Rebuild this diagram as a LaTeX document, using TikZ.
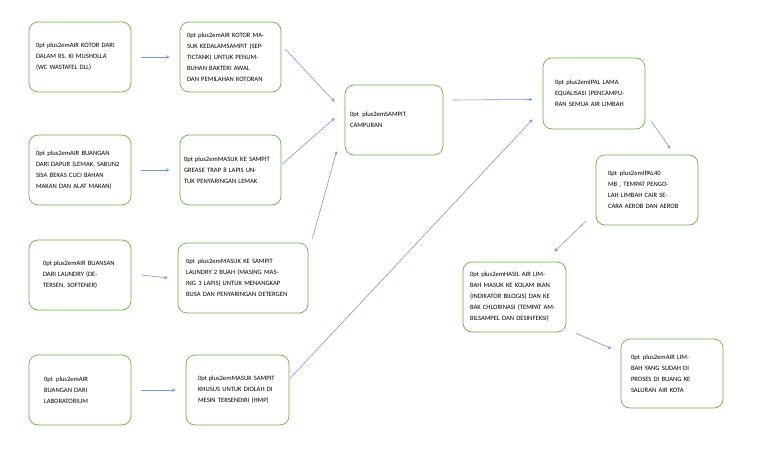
\documentclass[tikz,border=0pt]{standalone}
\usepackage{fontspec}
\setmainfont{Carlito}
\definecolor{bg}{RGB}{112,173,71}
\definecolor{ab}{RGB}{120,150,220}
\begin{document}
\begin{tikzpicture}[x=1pt,y=-1pt,
 box/.style={draw=bg, line width=0.7pt, rounded corners=9pt, align=center, font=\fontsize{6.6}{11}\selectfont\lefthyphenmin=64\relax\hyphenpenalty=10000\relax, inner sep=2pt},
 arr/.style={draw=ab, line width=0.6pt, ->, >=stealth}]
\useasboundingbox[fill=white] (0,0) rectangle (768,466);
\newcommand{\bx}[7]{\node[box, minimum width=#4-#2, minimum height=#5-#3, text width=#4-#2-#7] (#1) at ({(#2+#4)/2},{(#3+#5)/2}) {#6};}
\bx{a1}{29}{22}{131}{92}{AIR KOTOR DARI DALAM RS, KI MUSHOLLA (WC WASTAFEL DLL)}{14}
\bx{b1}{180}{22}{281}{92}{AIR KOTOR MASUK KEDALAMSAMPIT (SEPTICTANK) UNTUK PENUMBUHAN BAKTERI AWAL DAN PEMILAHAN KOTORAN}{14}
\bx{a2}{29}{135}{131}{205}{AIR BUANGAN DARI DAPUR (LEMAK, SABUN2 SISA BEKAS CUCI BAHAN MAKAN DAN ALAT MAKAN)}{14}
\bx{b2}{180}{135}{281}{205}{MASUK KE SAMPIT GREASE TRAP 8 LAPIS UNTUK PENYARINGAN LEMAK}{8}
\bx{a3}{29}{240}{131}{310}{AIR BUANSAN DARI LAUNDRY (DETERSEN, SOFTENER)}{28}
\bx{b3}{178}{243}{308}{313}{MASUK KE SAMPIT LAUNDRY 2 BUAH (MASING MASING 3 LAPIS) UNTUK MENANGKAP BUSA DAN PENYARINGAN DETERGEN}{16}
\bx{a4}{29}{355}{131}{425}{AIR BUANGAN DARI LABORATORIUM}{30}
\bx{b4}{186}{355}{289}{425}{MASUK SAMPIT KHUSUS UNTUK DIOLAH DI MESIN TERSENDIRI (HMP)}{24}
\bx{s}{345}{85}{443}{155}{SAMPIT CAMPURAN}{10}
\bx{e}{543}{58}{645}{129}{IPAL LAMA EQUALISASI (PENCAMPURAN SEMUA AIR LIMBAH}{24}
\bx{f}{596}{155}{698}{225}{IPAL40 MB , TEMPAT PENGOLAH LIMBAH CAIR SECARA AEROB DAN AEROB}{24}
\bx{g}{463}{262}{566}{332}{HASIL AIR LIMBAH MASUK KE KOLAM IKAN (INDIKATOR BILOGIS) DAN KE BAK CHLORINASI (TEMPAT AMBILSAMPEL DAN DESINFEKSI)}{14}
\bx{h}{621}{339}{723}{408}{AIR LIMBAH YANG SUDAH DI PROSES DI BUANG KE SALURAN AIR KOTA}{20}
\draw[arr] ([xshift=10]a1.east) -- ([xshift=-10]b1.west);
\draw[arr] ([xshift=10]a2.east) -- ([xshift=-10]b2.west);
\draw[arr] ([xshift=10]a3.east) -- ([xshift=-10]b3.west);
\draw[arr] ([xshift=10]a4.east) -- ([xshift=-10]b4.west);
\draw[arr] ([shift={(4,-8)}]b1.east) -- ([shift={(-10,-18)}]s.west);
\draw[arr] ([shift={(1,-6)}]b2.east) -- ([shift={(-10,-2)}]s.west);
\draw[arr] ([shift={(4,-4)}]b3.north east) -- ([shift={(-8,-4)}]s.south west);
\draw[arr] ([shift={(1,-12)}]b4.east) -- ([shift={(-10,-10)}]e.south west);
\draw[arr] ([shift={(9,-20)}]s.east) -- ([shift={(-10,6)}]e.west);
\draw[arr] ([shift={(6,-8)}]e.south east) -- ([shift={(-28,-6)}]f.north east);
\draw[arr] ([shift={(-10,-4)}]f.south west) -- ([shift={(-12,-10)}]g.north east);
\draw[arr] ([shift={(10,1)}]g.south east) -- ([shift={(-9,10)}]h.north west);
\end{tikzpicture}
\end{document}
